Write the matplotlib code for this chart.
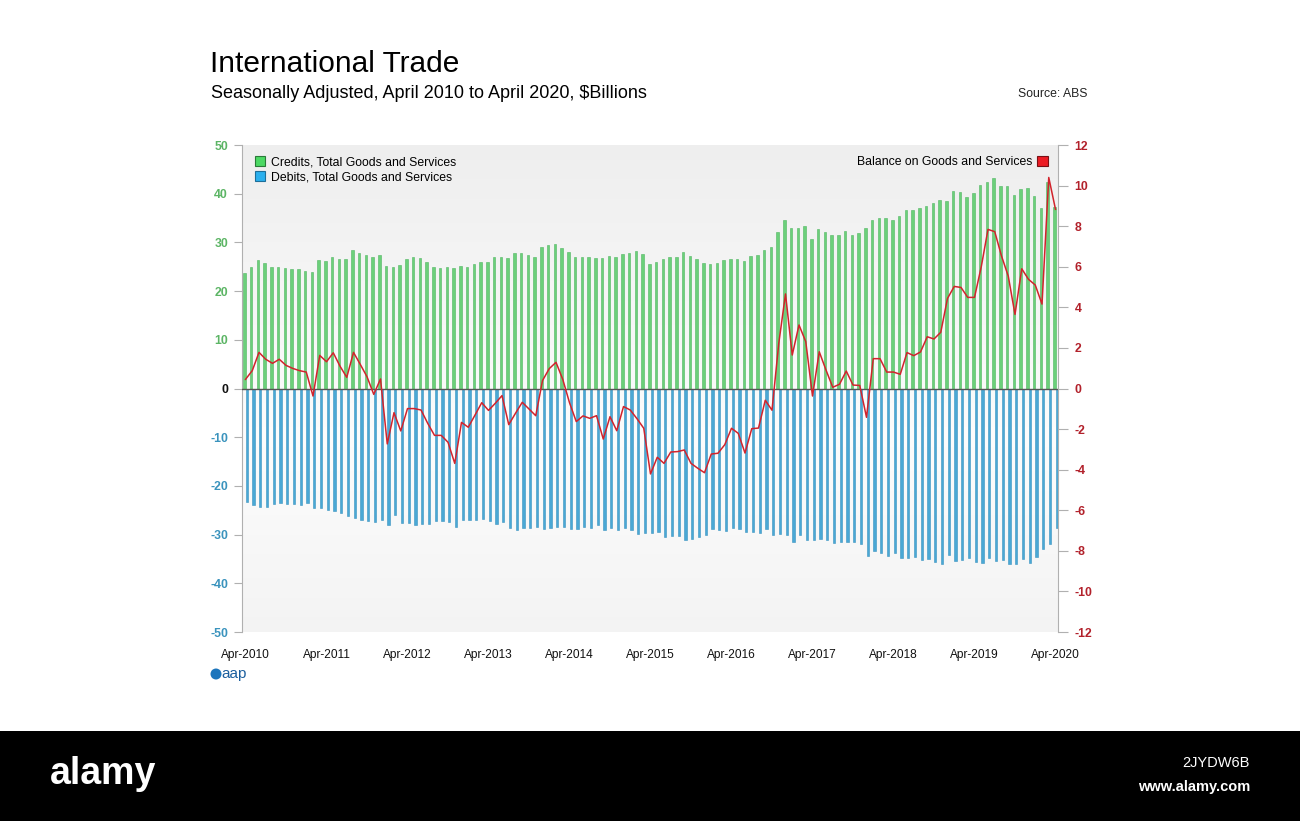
import numpy as np
import matplotlib
matplotlib.use("Agg")
import matplotlib.pyplot as plt
from matplotlib.patches import Patch, Ellipse, Rectangle

plt.rcParams['font.family'] = ['Liberation Sans', 'DejaVu Sans']

# ---------------- data ----------------
months = 121  # Apr-2010 .. Apr-2020
tick_positions = list(range(0, 121, 12))
tick_labels = ["Apr-2010", "Apr-2011", "Apr-2012", "Apr-2013", "Apr-2014", "Apr-2015",
               "Apr-2016", "Apr-2017", "Apr-2018", "Apr-2019", "Apr-2020"]

credits = [23.8, 25.0, 26.3, 25.8, 24.9, 24.9, 24.8, 24.6, 24.6, 24.2, 24.0, 26.3, 26.1, 27.0, 26.5,
           26.6, 28.4, 27.9, 27.5, 27.1, 27.5, 25.2, 24.9, 25.4, 26.6, 27.1, 26.8, 26.0, 24.9, 24.7,
           24.9, 24.8, 25.2, 24.9, 25.5, 26.0, 26.0, 27.1, 26.9, 26.8, 27.9, 27.9, 27.5, 27.1, 29.1,
           29.5, 29.7, 28.9, 28.1, 27.1, 27.0, 27.1, 26.7, 26.7, 27.3, 27.1, 27.7, 27.9, 28.3, 27.6,
           25.5, 25.9, 26.6, 27.1, 27.1, 28.0, 27.3, 26.5, 25.7, 25.5, 25.8, 26.4, 26.5, 26.6, 26.2,
           27.2, 27.4, 28.4, 29.0, 32.1, 34.7, 33.0, 33.0, 33.4, 30.8, 32.8, 32.1, 31.6, 31.6, 32.3,
           31.6, 32.0, 32.9, 34.7, 35.1, 35.1, 34.5, 35.5, 36.6, 36.6, 37.1, 37.5, 38.1, 38.8, 38.5,
           40.5, 40.3, 39.3, 40.1, 41.8, 42.5, 43.2, 41.6, 41.6, 39.8, 41.0, 41.2, 39.6, 37.1, 42.3,
           37.3]

debits = [23.3, 24.0, 24.4, 24.3, 23.7, 23.6, 23.8, 23.7, 23.9, 23.6, 24.5, 24.6, 24.9, 25.2, 25.6,
          26.1, 26.6, 26.9, 27.3, 27.4, 27.0, 28.0, 26.0, 27.7, 27.7, 28.1, 27.9, 27.9, 27.3, 27.2,
          27.5, 28.5, 27.0, 27.0, 26.9, 26.8, 27.2, 27.9, 27.4, 28.6, 29.1, 28.7, 28.6, 28.5, 28.8,
          28.7, 28.5, 28.5, 28.9, 28.8, 28.4, 28.7, 28.1, 29.1, 28.7, 29.1, 28.7, 29.1, 29.8, 29.7,
          29.7, 29.4, 30.4, 30.2, 30.3, 31.1, 30.9, 30.5, 30.0, 28.8, 29.1, 29.3, 28.7, 28.9, 29.5,
          29.4, 29.6, 28.9, 30.0, 29.8, 30.0, 31.5, 30.0, 31.2, 31.2, 30.9, 31.2, 31.7, 31.5, 31.5,
          31.5, 31.9, 34.3, 33.3, 33.7, 34.3, 33.7, 34.9, 34.9, 34.6, 35.3, 35.0, 35.7, 36.0, 34.1,
          35.5, 35.3, 34.8, 35.6, 35.8, 34.9, 35.5, 35.3, 36.1, 36.1, 35.1, 35.8, 34.5, 32.9, 31.9,
          28.6]

balance = [0.45, 0.88, 1.78, 1.44, 1.24, 1.44, 1.14, 0.99, 0.88, 0.81, -0.37, 1.63, 1.32, 1.76, 1.10,
           0.55, 1.78, 1.19, 0.58, -0.29, 0.47, -2.73, -1.19, -2.09, -0.99, -0.99, -1.06, -1.72, -2.31, -2.31,
           -2.65, -3.69, -1.67, -1.91, -1.31, -0.70, -1.08, -0.73, -0.35, -1.78, -1.22, -0.68, -1.01, -1.34, 0.39,
           0.98, 1.29, 0.45, -0.70, -1.63, -1.35, -1.47, -1.34, -2.49, -1.39, -2.08, -0.89, -1.06, -1.49, -1.96,
           -4.21, -3.39, -3.69, -3.13, -3.11, -3.03, -3.69, -3.93, -4.15, -3.23, -3.19, -2.77, -1.96, -2.21, -3.18,
           -1.98, -1.95, -0.58, -1.07, 2.22, 4.66, 1.65, 3.13, 2.31, -0.37, 1.81, 0.91, 0.06, 0.21, 0.86,
           0.17, 0.15, -1.42, 1.47, 1.47, 0.81, 0.81, 0.70, 1.77, 1.62, 1.80, 2.55, 2.44, 2.77, 4.44,
           5.03, 4.98, 4.49, 4.49, 6.00, 7.84, 7.73, 6.53, 5.54, 3.65, 5.90, 5.38, 5.10, 4.16, 10.40,
           8.83]

left_ticks = [50, 40, 30, 20, 10, 0, -10, -20, -30, -40, -50]
right_ticks = [12, 10, 8, 6, 4, 2, 0, -2, -4, -6, -8, -10, -12]

# ---------------- figure ----------------
W, H = 1300, 821
fig = plt.figure(figsize=(W / 100, H / 100), dpi=100)
fig.patch.set_facecolor('white')

def fx(px):
    return px / W

def fy(py):
    return 1 - py / H

ax_l, ax_r, ax_t, ax_b = 242, 1058, 145, 632
ax = fig.add_axes([fx(ax_l), fy(ax_b), fx(ax_r - ax_l), (ax_b - ax_t) / H])
ax2 = ax.twinx()

x = np.arange(months)
ax.set_xlim(-0.52, 120.37)
ax.set_ylim(-50, 50)
ax2.set_ylim(-12, 12)

# background gradient
grad = np.concatenate([np.linspace(0.935, 0.99, 60), np.linspace(0.99, 0.955, 40)])
img = np.dstack([grad, grad, grad]).reshape(100, 1, 3)
ax.imshow(img, extent=[-0.52, 120.37, -50, 50], aspect='auto', zorder=0, origin='upper')
ax.set_facecolor('white')

green = '#6bd07a'
green_edge = '#4fb560'
blue = '#4aa8d5'
blue_edge = '#3a93c0'
red = '#d2232c'

bw = 0.34
ax.bar(x - 0.17, credits, width=bw, color=green, edgecolor=green_edge, linewidth=0.4, zorder=2)
ax.bar(x + 0.17, [-d for d in debits], width=bw, color=blue, edgecolor=blue_edge, linewidth=0.4, zorder=2)
ax.axhline(0, color='#555555', linewidth=1.0, zorder=3)

ax2.plot(x, balance, color=red, linewidth=1.1, zorder=4)

# axes styling
for a in (ax, ax2):
    for s in ('top', 'bottom'):
        a.spines[s].set_visible(False)
ax.spines['right'].set_visible(False)
ax.spines['left'].set_color('#b0b0b0')
ax2.spines['left'].set_visible(False)
ax2.spines['right'].set_color('#b0b0b0')

ax.set_xticks(tick_positions)
ax.set_xticklabels(tick_labels, fontsize=8.6, color='#111111')
ax.tick_params(axis='x', length=0, pad=12)

ax.set_yticks(left_ticks)
ax.set_yticklabels([str(t) for t in left_ticks], fontsize=8.8, fontweight='bold')
ax.tick_params(axis='y', length=6, color='#b0b0b0', pad=4)
for t, lab in zip(left_ticks, ax.get_yticklabels()):
    if t > 0:
        lab.set_color('#5cb565')
    elif t < 0:
        lab.set_color('#3a93bd')
    else:
        lab.set_color('#111111')

ax2.set_yticks(right_ticks)
ax2.set_yticklabels([str(t) for t in right_ticks], fontsize=8.8, fontweight='bold', color='#b2212b')
ax2.tick_params(axis='y', length=7, color='#b0b0b0', pad=5)

ax.set_zorder(1)
ax2.set_zorder(2)
ax2.patch.set_visible(False)

# legends
h1 = [Patch(facecolor='#4cd964', edgecolor='#2a7a38', linewidth=0.8),
      Patch(facecolor='#2bb0ee', edgecolor='#1d6f99', linewidth=0.8)]
leg1 = ax2.legend(h1, ['Credits, Total Goods and Services', 'Debits, Total Goods and Services'],
                  loc='upper left', bbox_to_anchor=(0.005, 0.995), frameon=False, fontsize=8.8,
                  handlelength=0.85, handleheight=0.85, handletextpad=0.45, labelspacing=0.25,
                  borderaxespad=0.3)
ax2.add_artist(leg1)
h2 = [Patch(facecolor='#ec1c24', edgecolor='#7a1015', linewidth=0.8)]
ax2.legend(h2, ['Balance on Goods and Services'], loc='upper right', bbox_to_anchor=(0.998, 0.995),
           frameon=False, fontsize=8.8, markerfirst=False, handlelength=0.85, handleheight=0.85,
           handletextpad=0.45, borderaxespad=0.3)

# titles
fig.text(fx(210), fy(64), 'International Trade', fontsize=21.5, color='#000000',
         ha='left', va='center')
fig.text(fx(211), fy(93), 'Seasonally Adjusted, April 2010 to April 2020, $Billions', fontsize=13.0,
         color='#000000', ha='left', va='center')
fig.text(fx(1088), fy(94), 'Source: ABS', fontsize=8.8, color='#222222', ha='right', va='center')

# aap logo
fig.patches.append(Ellipse((fx(216), fy(674)), width=11 / W, height=11 / H, transform=fig.transFigure,
                           facecolor='#1c75bc', edgecolor='none'))
fig.text(fx(221), fy(674), 'aap', fontsize=11, color='#1c5f9e', ha='left', va='center')

# bottom stock band
fig.patches.append(Rectangle((0, 0), 1, 90 / H, transform=fig.transFigure, facecolor='black',
                             edgecolor='none', zorder=-1))
fig.text(fx(50), fy(774), 'alamy', fontsize=27, fontweight='bold', color='white',
         ha='left', va='center')
fig.text(fx(1250), fy(763), '2JYDW6B', fontsize=10.5, color='white', ha='right', va='center')
fig.text(fx(1250), fy(787), 'www.alamy.com', fontsize=10.5, fontweight='bold', color='white',
         ha='right', va='center')

fig.savefig('out.png', dpi=100, facecolor='white')
